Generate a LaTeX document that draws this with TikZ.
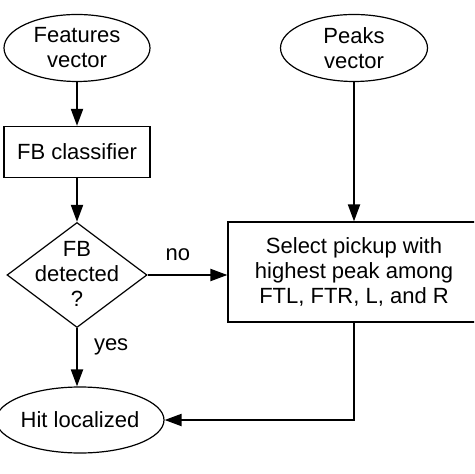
\documentclass[tikz,border=0pt]{standalone}
\usepackage{fontspec}
\setmainfont{Liberation Sans}
\usetikzlibrary{shapes.geometric,arrows.meta}

\begin{document}
\begin{tikzpicture}[
        x=0.5pt, y=-0.5pt,
        every node/.style={font=\fontsize{11}{12.5}\selectfont, align=center, inner sep=0pt},
        oval/.style={draw, ellipse, line width=0.6pt},
        block/.style={draw, rectangle, line width=0.6pt},
        decision/.style={draw, diamond, line width=0.6pt, minimum width=70pt, minimum height=52.5pt},
        flow/.style={line width=1pt, -{Triangle[length=8.5pt,width=6pt]}}
    ]
    \useasboundingbox (0,0) rectangle (474,474);
    \clip (0,0) rectangle (474,474);
    % inputs
    \node[oval, minimum width=73pt, minimum height=33.5pt] (feat) at (77,48) {Features\\vector};
    \node[oval, minimum width=73.5pt, minimum height=33.5pt] (peaks) at (354,48) {Peaks\\vector};
    % left branch
    \node[block, minimum width=73pt, minimum height=25.5pt] (cls) at (77,152) {FB classifier};
    \node[decision] (det) at (77,275)
        {\raisebox{-3.5pt}[0pt][0pt]{\makebox[0pt]{\begin{tabular}{@{}c@{}}FB\\detected\\?\end{tabular}}}};
    \node[oval, minimum width=84pt, minimum height=33pt] (hit) at (80,420) {Hit localized};
    % right branch
    \node[block, minimum width=126pt, minimum height=50pt] (sel) at (354,272)
        {Select pickup with\\highest peak among\\FTL, FTR, L, and R};

    \draw[flow] (feat) -- (cls);
    \draw[flow] (cls) -- (det);
    \draw[flow] (det.south) -- node[pos=0.33, right=8pt]{yes} (det.south |- hit.north);
    \draw[flow] (det.east) -- node[pos=0.38, above=6.5pt]{no} (det.east -| sel.west);
    \draw[flow] (peaks) -- (sel);
    \draw[flow] (sel.south) |- (hit.east);
\end{tikzpicture}
\end{document}
